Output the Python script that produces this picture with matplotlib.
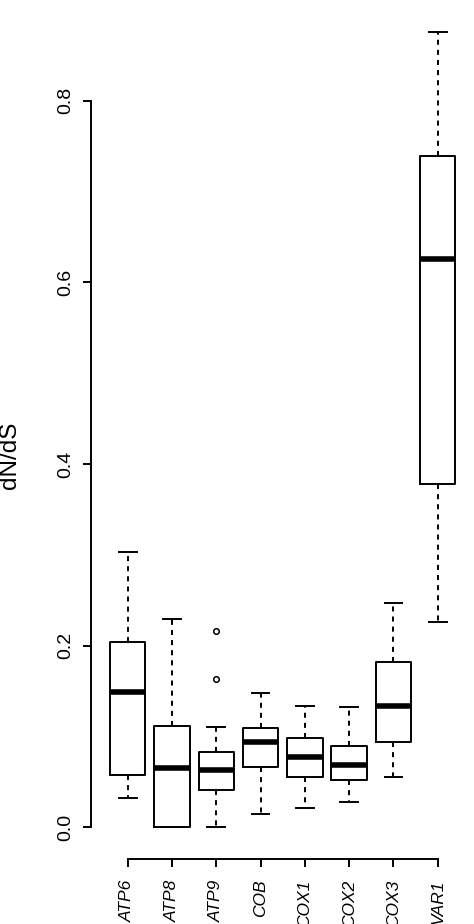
import matplotlib
matplotlib.use("Agg")
import matplotlib.pyplot as plt

# box statistics
genes = ["ATP6", "ATP8", "ATP9", "COB", "COX1", "COX2", "COX3", "VAR1"]
whislo = [0.032, 0.000, 0.000, 0.015, 0.021, 0.028, 0.0555, 0.226]
q1 = [0.057, 0.000, 0.041, 0.066, 0.055, 0.0525, 0.094, 0.378]
med = [0.149, 0.065, 0.063, 0.094, 0.0775, 0.068, 0.134, 0.6255]
q3 = [0.204, 0.112, 0.083, 0.109, 0.098, 0.089, 0.182, 0.739]
whishi = [0.303, 0.229, 0.110, 0.148, 0.133, 0.132, 0.2465, 0.876]
fliers = [[], [], [0.163, 0.216], [], [], [], [], []]

yticks = [0.0, 0.2, 0.4, 0.6, 0.8]

plt.rcParams['font.family'] = ['Liberation Sans', 'DejaVu Sans']

fig = plt.figure(figsize=(4.74, 9.24), dpi=100)
ax = fig.add_axes([91 / 474, 65 / 924, 383 / 474, 859 / 924])

stats = []
for i in range(len(genes)):
    stats.append(dict(label=genes[i], whislo=whislo[i], q1=q1[i], med=med[i],
                      q3=q3[i], whishi=whishi[i], fliers=fliers[i]))

lw = 1.4
ax.bxp(stats, positions=range(1, len(genes) + 1), widths=0.8, capwidths=0.4,
       boxprops=dict(color='black', linewidth=lw),
       medianprops=dict(color='black', linewidth=4.0, solid_capstyle='butt'),
       whiskerprops=dict(color='black', linewidth=lw, linestyle=(0, (2.6, 2.6))),
       capprops=dict(color='black', linewidth=lw),
       flierprops=dict(marker='o', markersize=4, markerfacecolor='none',
                       markeredgecolor='black', markeredgewidth=1.1))

ax.set_xlim(0.17, 8.82)
ax.set_ylim(-0.035, 0.911)

for s in ['top', 'right']:
    ax.spines[s].set_visible(False)
ax.spines['left'].set_bounds(0, 0.8)
ax.spines['bottom'].set_bounds(1, 8)
ax.spines['left'].set_linewidth(lw)
ax.spines['bottom'].set_linewidth(lw)

ax.set_yticks(yticks)
ax.set_yticklabels(["%.1f" % v for v in yticks], rotation=90, va='center', fontsize=14)
ax.set_xticks(range(1, len(genes) + 1))
ax.set_xticklabels(genes, rotation=90, fontsize=12.5, style='italic', va='top')
ax.tick_params(axis='both', length=5.8, width=lw, direction='out')
ax.tick_params(axis='y', pad=6)
ax.tick_params(axis='x', pad=9)

fig.text(10 / 474, 1 - 455 / 924, "dN/dS", rotation=90, fontsize=17.5,
         ha='center', va='center')

fig.savefig("out.png", dpi=100)
